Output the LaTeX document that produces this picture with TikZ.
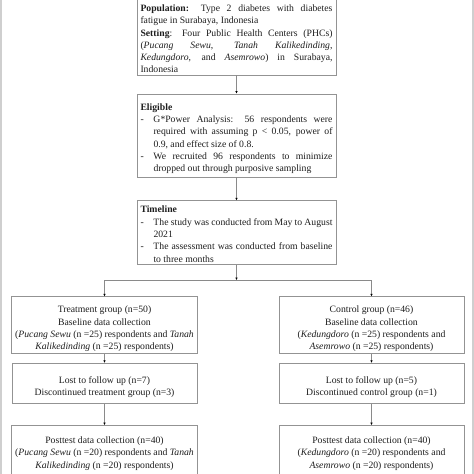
\documentclass[tikz,border=0pt]{standalone}
\usepackage{fontspec}
\setmainfont{Liberation Serif}
\usetikzlibrary{arrows.meta}
\definecolor{boxgray}{HTML}{939393}
\definecolor{linegray}{HTML}{8A8A8A}
\definecolor{txt}{HTML}{1E1E1E}
\definecolor{edgegray}{HTML}{CFCFCF}
\newcommand\itm[1]{\par\hangindent=13pt\hangafter=1\noindent\makebox[13pt][l]{-}#1\par}
\newcommand\boxfont{\fontsize{9.7}{12.3}\selectfont\hyphenpenalty=10000\relax\tolerance=10000\relax}
\newcommand\tstrut{\rule{0pt}{14pt}}
\begin{document}
\begin{tikzpicture}[x=1pt,y=-1pt,
  box/.style={draw=boxgray, line width=0.8pt, inner xsep=3.5pt, inner ysep=2pt,
    font=\boxfont, text=txt},
  topbox/.style={box, minimum width=199pt, text width=192pt, align=justify},
  sidebox/.style={box, minimum width=185pt, align=center},
  conn/.style={draw=linegray, line width=0.7pt},
  arr/.style={conn, -{Latex[length=2.5pt,width=2.5pt,color=black]}}]
\useasboundingbox (0,0) rectangle (474,474);
\clip (0,0) rectangle (474,474);
\fill[white] (0,0) rectangle (474,474);
\draw[edgegray, line width=2pt] (1,0) -- (1,474);
\draw[edgegray, line width=2pt] (473,0) -- (473,474);

\node[topbox, minimum height=75pt] (pop) at (236.5,36.5) {%
\noindent\rule{0pt}{11.5pt}\textbf{Population:} Type 2 diabetes with diabetes\linebreak fatigue in Surabaya, Indonesia\par
\noindent\textbf{Setting}: Four Public Health Centers (PHCs)\linebreak (\textit{Pucang Sewu}, \textit{Tanah Kalikedinding},\linebreak \textit{Kedungdoro}, and \textit{Asemrowo}) in Surabaya,\linebreak Indonesia\par};

\node[topbox, minimum height=83pt] (elig) at (236.5,135.5) {%
\noindent\rule{0pt}{13pt}\textbf{Eligible}
\itm{G*Power Analysis: 56 respondents were\linebreak required with assuming p < 0.05, power of\linebreak 0.9, and effect size of 0.8.}
\itm{We recruited 96 respondents to minimize\linebreak dropped out through purposive sampling}};

\node[topbox, minimum height=61pt] (time) at (236.5,232.5) {%
\noindent\rule{0pt}{10pt}\textbf{Timeline}
\itm{The study was conducted from May to August\linebreak 2021}
\itm{The assessment was conducted from baseline\linebreak to three months}};

\coordinate (split) at (236.5,280);

\node[sidebox, minimum height=55pt] (treat) at (104.5,325.3) {\tstrut Treatment group (n=50)\\ Baseline data collection\\ (\textit{Pucang Sewu} (n =25) respondents and \textit{Tanah}\\ \textit{Kalikedinding} (n =25) respondents)};
\node[sidebox, minimum height=40pt] (lostL) at (104.5,383.3) {\tstrut Lost to follow up (n=7)\\ Discontinued treatment group (n=3)};
\node[sidebox, minimum height=56pt] (postL) at (104.5,453.5) {Posttest data collection (n=40)\\ (\textit{Pucang Sewu} (n =20) respondents and \textit{Tanah}\\ \textit{Kalikedinding} (n =20) respondents)};

\node[sidebox, minimum height=55pt] (ctrl) at (371.5,325.3) {\tstrut Control group (n=46)\\ Baseline data collection\\ (\textit{Kedungdoro} (n =25) respondents and\\ \textit{Asemrowo} (n =25) respondents)};
\node[sidebox, minimum height=40pt] (lostR) at (371.5,383.3) {\tstrut Lost to follow up (n=5)\\ Discontinued control group (n=1)};
\node[sidebox, minimum height=56pt] (postR) at (371.5,453.5) {Posttest data collection (n=40)\\ (\textit{Kedungdoro} (n =20) respondents and\\ \textit{Asemrowo} (n =20) respondents)};

\draw[arr] (pop.south) -- (elig.north);
\draw[arr] (elig.south) -- (time.north);
\draw[arr] (time.south) -- (split);
\draw[arr] (split) -| (treat.north);
\draw[arr] (split) -| (ctrl.north);
\draw[arr] (treat.south) -- (lostL.north);
\draw[arr] (lostL.south) -- (postL.north);
\draw[arr] (ctrl.south) -- (lostR.north);
\draw[arr] (lostR.south) -- (postR.north);
\end{tikzpicture}
\end{document}
